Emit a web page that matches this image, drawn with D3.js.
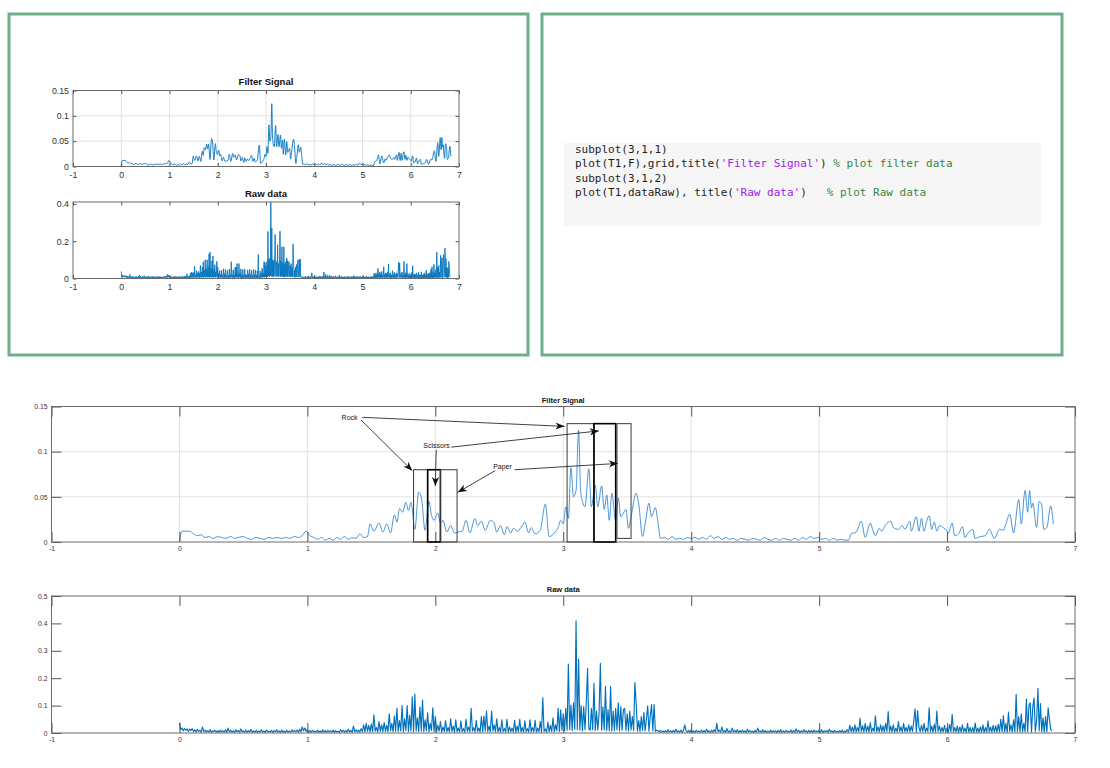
<!DOCTYPE html>
<html><head><meta charset="utf-8">
<script src="https://cdn.jsdelivr.net/npm/d3@7"></script>
<style>body{margin:0;background:#fff} svg{display:block}</style>
</head><body>
<svg id="c" width="1110" height="768"></svg>
<script>
// ---------- data ----------
const xTicks = [-1, 0, 1, 2, 3, 4, 5, 6, 7];
const filterYTicks = [0, 0.05, 0.1, 0.15];
const rawYTicks = [0, 0.1, 0.2, 0.3, 0.4, 0.5];
const smallRawYTicks = [0, 0.2, 0.4];

// Filter signal: [time (s), value x 1000]
const filterSignal = [[0,1],[0.02,12],[0.05,12],[0.08,12],[0.11,9],[0.14,7],[0.17,8],[0.2,5],[0.23,6],[0.26,4],[0.3,6],[0.33,5],[0.36,4],[0.4,6],[0.43,4],[0.46,5],[0.5,6],[0.53,4],[0.56,3],[0.6,5],[0.63,4],[0.66,3],[0.7,5],[0.73,4],[0.76,5],[0.8,4],[0.83,5],[0.86,4],[0.9,6],[0.93,5],[0.96,7],[0.99,12],[1.02,7],[1.05,5],[1.08,3],[1.11,5],[1.14,2],[1.17,4],[1.2,2],[1.23,5],[1.26,3],[1.29,6],[1.32,3],[1.35,5],[1.38,4],[1.41,9],[1.44,5],[1.47,6],[1.49,20],[1.52,12],[1.56,21],[1.59,11],[1.62,20],[1.65,10],[1.68,30],[1.7,22],[1.72,37],[1.745,33],[1.77,44],[1.79,35],[1.81,44],[1.84,14],[1.87,55],[1.89,50],[1.92,13],[1.95,45],[1.97,30],[1.99,24],[2.02,32],[2.04,21],[2.06,24],[2.09,11],[2.12,18],[2.15,10],[2.18,11],[2.21,12],[2.24,24],[2.27,10],[2.31,26],[2.33,18],[2.36,23],[2.39,13],[2.43,24],[2.46,21],[2.48,11],[2.51,18],[2.54,8],[2.56,17],[2.59,10],[2.61,15],[2.64,12],[2.67,16],[2.7,22],[2.73,10],[2.75,16],[2.78,9],[2.82,13],[2.86,42],[2.89,6],[2.93,10],[2.96,16],[2.98,24],[3,20],[3.02,39],[3.04,26],[3.06,82],[3.08,50],[3.1,57],[3.12,124],[3.135,58],[3.15,45],[3.17,39],[3.2,81],[3.22,39],[3.25,63],[3.27,39],[3.3,62],[3.32,36],[3.34,52],[3.36,24],[3.38,54],[3.41,23],[3.43,49],[3.45,28],[3.47,32],[3.49,36],[3.51,15],[3.53,28],[3.57,54],[3.59,42],[3.62,6],[3.64,20],[3.67,43],[3.69,28],[3.72,38],[3.74,22],[3.76,4],[3.79,5],[3.82,3],[3.85,6],[3.88,3],[3.91,4],[3.94,3],[3.97,5],[4,4],[4.03,5],[4.06,3],[4.09,5],[4.12,3],[4.15,7],[4.18,4],[4.21,6],[4.24,3],[4.27,5],[4.3,3],[4.33,4],[4.36,2],[4.39,4],[4.42,3],[4.45,2],[4.48,4],[4.51,3],[4.54,2],[4.57,5],[4.6,3],[4.63,2],[4.66,4],[4.69,2],[4.72,4],[4.75,3],[4.78,2],[4.81,4],[4.84,2],[4.87,5],[4.9,3],[4.93,6],[4.96,4],[4.99,5],[5.02,3],[5.05,4],[5.08,2],[5.11,4],[5.14,2],[5.17,3],[5.2,2],[5.23,2],[5.25,9],[5.29,11],[5.33,23],[5.36,5],[5.4,21],[5.42,13],[5.44,7],[5.47,15],[5.49,12],[5.52,19],[5.56,23],[5.58,16],[5.62,14],[5.65,18],[5.67,14],[5.71,23],[5.72,12],[5.76,28],[5.78,12],[5.8,26],[5.82,12],[5.84,23],[5.86,29],[5.88,14],[5.9,22],[5.92,12],[5.94,18],[5.97,16],[6,12],[6.01,10],[6.04,21],[6.06,7],[6.09,9],[6.12,17],[6.14,5],[6.16,9],[6.2,14],[6.22,4],[6.26,6],[6.3,7],[6.33,14],[6.37,4],[6.41,14],[6.44,13],[6.46,20],[6.49,31],[6.52,10],[6.56,47],[6.58,20],[6.61,57],[6.63,33],[6.645,57],[6.66,38],[6.67,43],[6.7,16],[6.72,45],[6.74,41],[6.755,14],[6.78,16],[6.81,40],[6.83,20]];

// Raw data: one sample every rawStep seconds from rawStart, value x 1000
const rawStart = 0, rawStep = 0.01;
const rawMilli = [
38,12,18,8,16,10,15,6,14,9,
16,5,12,4,13,6,10,3,22,5,
11,3,9,4,12,2,8,5,10,3,
9,2,11,4,8,3,12,2,18,4,
10,3,8,2,12,5,9,3,15,4,
8,2,11,3,9,4,13,2,8,3,
10,2,7,4,12,3,8,2,11,4,
7,3,10,2,9,4,12,3,8,2,
11,3,8,2,10,4,7,3,12,5,
9,4,11,3,14,5,22,8,18,6,
12,3,9,2,10,4,7,2,11,3,
8,2,12,3,9,2,10,4,8,3,
11,2,9,3,7,2,12,4,10,3,
9,3,14,4,10,2,25,5,12,4,
11,3,16,5,30,4,35,6,28,4,
33,5,66,7,20,4,42,6,30,5,
38,6,28,4,70,8,35,5,62,7,
90,6,45,8,100,5,52,9,100,6,
65,7,132,5,142,8,55,6,95,7,
120,6,48,8,74,5,35,9,92,6,
60,5,28,7,42,4,22,6,45,5,
20,4,52,6,25,3,48,5,18,4,
44,5,16,3,50,6,22,4,90,7,
20,4,46,6,18,3,60,5,62,7,
80,6,25,4,80,7,30,5,52,4,
20,3,48,5,16,4,50,3,22,5,
18,4,46,3,25,5,50,4,20,3,
44,5,16,3,48,4,20,5,46,3,
18,4,42,3,129,6,15,3,40,5,
28,6,55,5,30,8,90,6,85,9,
70,8,90,10,252,12,102,9,110,14,
409,12,270,10,100,8,96,12,110,236,
14,10,90,12,181,9,80,11,70,254,
10,95,12,170,9,85,8,170,7,80,
9,90,12,110,8,96,10,85,90,9,
70,8,80,11,60,9,184,108,7,45,
6,60,9,75,8,50,99,7,60,104,
8,104,6,10,8,4,10,3,7,4,
9,3,12,4,8,2,10,3,14,4,
8,3,11,2,9,30,7,3,10,2,
12,3,8,2,10,4,7,3,11,2,
9,3,14,4,8,2,10,3,12,4,
35,5,10,3,22,4,9,2,16,3,
8,2,18,4,10,3,12,2,9,3,
11,3,8,2,14,4,9,3,7,2,
10,3,18,4,8,2,12,3,9,2,
7,3,11,2,9,4,8,2,10,3,
12,3,8,2,10,4,7,3,11,2,
9,3,15,4,10,2,8,3,12,4,
8,2,10,3,9,2,11,4,8,3,
10,3,12,2,8,4,9,3,14,4,
8,2,10,3,7,2,9,3,11,2,
8,3,12,4,28,5,22,3,30,4,
20,5,54,6,26,4,35,5,25,4,
38,4,18,6,63,5,22,4,30,5,
26,4,35,6,78,5,25,4,30,3,
18,4,42,6,22,3,35,5,20,4,
30,5,25,6,45,88,4,82,20,5,
28,6,35,4,18,5,92,6,25,3,
32,4,80,6,25,3,20,4,28,3,
18,3,32,4,68,5,20,3,25,2,
22,3,30,4,18,2,35,3,20,2,
20,2,36,3,18,2,22,3,30,2,
20,3,44,4,22,3,28,4,26,3,
32,4,50,5,63,4,35,3,76,6,
30,4,48,5,141,6,60,4,70,5,
35,5,124,6,100,110,4,95,128,6,
45,163,8,107,5,55,4,60,5,92,
50,13,8];

// Annotations on the large filter plot (data units)
const rects = [
  {t0:1.83, t1:1.94, v0:0, v1:0.08, bold:false},
  {t0:1.94, t1:2.04, v0:0, v1:0.08, bold:true},
  {t0:2.04, t1:2.17, v0:0, v1:0.08, bold:false},
  {t0:3.03, t1:3.24, v0:0, v1:0.131, bold:false},
  {t0:3.24, t1:3.41, v0:0, v1:0.131, bold:true},
  {t0:3.42, t1:3.53, v0:0.004, v1:0.131, bold:false}
];
const noteLabels = [
  {text:"Rock", t:1.33, v:0.138},
  {text:"Scissors", t:2.01, v:0.107},
  {text:"Paper", t:2.525, v:0.083}
];
const noteArrows = [
  {t0:1.42, v0:0.135, t1:1.82, v1:0.079},
  {t0:1.43, v0:0.138, t1:3.01, v1:0.128},
  {t0:2.007, v0:0.102, t1:2.0, v1:0.062},
  {t0:2.124, v0:0.105, t1:3.278, v1:0.123},
  {t0:2.468, v0:0.079, t1:2.176, v1:0.055},
  {t0:2.62, v0:0.08, t1:3.427, v1:0.087}
];

const codeLines = [
  [["subplot(3,1,1)","k"]],
  [["plot(T1,F),grid,title(","k"],["'Filter Signal'","s"],[") ","k"],["% plot filter data","c"]],
  [["subplot(3,1,2)","k"]],
  [["plot(T1,dataRaw), title(","k"],["'Raw data'","s"],[")   ","k"],["% plot Raw data","c"]]
];

// ---------- build ----------
const filterData = filterSignal.map(d => ({t: d[0], v: d[1] / 1000}));
const rawData = rawMilli.map((m, i) => ({t: rawStart + i * rawStep, v: m / 1000}));

const svg = d3.select("#c");
const FONT = "'Liberation Sans', Arial, Helvetica, sans-serif";
const green = "#6daf89";

svg.append("rect").attr("x",9).attr("y",14).attr("width",519).attr("height",341)
  .attr("fill","none").attr("stroke",green).attr("stroke-width",3);
svg.append("rect").attr("x",542).attr("y",14).attr("width",520).attr("height",341)
  .attr("fill","none").attr("stroke",green).attr("stroke-width",3);

let clipId = 0;
function panel(o) {
  const x = d3.scaleLinear().domain([-1, 7]).range([o.left, o.right]);
  const y = d3.scaleLinear().domain(o.yDomain).range([o.bottom, o.top]);
  const g = svg.append("g");
  const id = "clip" + (clipId++);
  svg.append("clipPath").attr("id", id).append("rect")
    .attr("x", o.left).attr("y", o.top).attr("width", o.right - o.left).attr("height", o.bottom - o.top);

  if (o.grid) {
    g.append("g").selectAll("line").data(xTicks.slice(1, -1)).join("line")
      .attr("x1", d => x(d)).attr("x2", d => x(d)).attr("y1", o.top).attr("y2", o.bottom)
      .attr("stroke", "#e2e2e2").attr("stroke-width", 1);
    g.append("g").selectAll("line").data(o.yTicks.slice(1, -1)).join("line")
      .attr("x1", o.left).attr("x2", o.right).attr("y1", d => y(d)).attr("y2", d => y(d))
      .attr("stroke", "#e2e2e2").attr("stroke-width", 1);
  }

  const line = d3.line().x(d => x(d.t)).y(d => y(d.v)).curve(o.curve || d3.curveLinear);
  g.append("path").datum(o.data).attr("d", line).attr("fill", "none")
    .attr("stroke", o.color).attr("stroke-width", o.lineW)
    .attr("stroke-linejoin", "round").attr("clip-path", `url(#${id})`);

  const style = sel => {
    sel.select(".domain").remove();
    sel.selectAll("line").attr("stroke", "#555").attr("stroke-width", 1);
    sel.selectAll("text").attr("fill", "#333").attr("font-family", FONT).attr("font-size", o.fs);
  };
  const fmt = d => String(d);
  g.append("g").attr("transform", `translate(0,${o.bottom})`)
    .call(d3.axisBottom(x).tickValues(xTicks).tickSize(-o.tl).tickPadding(o.padX).tickFormat(fmt)).call(style);
  g.append("g").attr("transform", `translate(0,${o.top})`)
    .call(d3.axisTop(x).tickValues(xTicks).tickSize(-o.tl).tickFormat("")).call(style);
  g.append("g").attr("transform", `translate(${o.left},0)`)
    .call(d3.axisLeft(y).tickValues(o.yTicks).tickSize(-o.tl).tickPadding(o.padY).tickFormat(fmt)).call(style);
  g.append("g").attr("transform", `translate(${o.right},0)`)
    .call(d3.axisRight(y).tickValues(o.yTicks).tickSize(-o.tl).tickFormat("")).call(style);

  g.append("rect").attr("x", o.left).attr("y", o.top)
    .attr("width", o.right - o.left).attr("height", o.bottom - o.top)
    .attr("fill", "none").attr("stroke", "#6a6a6a").attr("stroke-width", 1);

  g.append("text").attr("x", (o.left + o.right) / 2).attr("y", o.titleY)
    .attr("text-anchor", "middle").attr("font-family", FONT).attr("font-weight", "bold")
    .attr("font-size", o.titleFs).attr("fill", "#111").text(o.title);
  return {x, y, g};
}

// small panels (screenshot, top-left)
panel({left:73, right:459, top:90.5, bottom:166.5, yDomain:[0,0.15], yTicks:filterYTicks, grid:true,
  data:filterData, curve:d3.curveMonotoneX, color:"#0072BD", lineW:0.9, tl:3.5, fs:8.8, padX:5.5, padY:4,
  title:"Filter Signal", titleFs:9.6, titleY:84.5});
panel({left:73, right:459, top:202, bottom:278.5, yDomain:[0,0.41], yTicks:smallRawYTicks, grid:false,
  data:rawData, color:"#0072BD", lineW:0.85, tl:3.5, fs:8.8, padX:5.5, padY:4,
  title:"Raw data", titleFs:9.6, titleY:196.5});

// large panels
const big = panel({left:51.5, right:1075, top:406.5, bottom:542, yDomain:[0,0.15], yTicks:filterYTicks, grid:true,
  data:filterData, curve:d3.curveMonotoneX, color:"#2a82cf", lineW:0.85, tl:10, fs:6.8, padX:4.5, padY:4,
  title:"Filter Signal", titleFs:7.5, titleY:402.6});
panel({left:51.5, right:1075, top:596, bottom:733, yDomain:[0,0.5], yTicks:rawYTicks, grid:false,
  data:rawData, color:"#0072BD", lineW:1.15, tl:10, fs:6.8, padX:4.5, padY:4,
  title:"Raw data", titleFs:7.5, titleY:591.6});

// annotations
const bx = big.x, by = big.y;
svg.append("defs").append("marker").attr("id", "ah")
  .attr("viewBox", "-10 -5 12 10").attr("refX", 0).attr("refY", 0)
  .attr("markerUnits", "userSpaceOnUse").attr("markerWidth", 12).attr("markerHeight", 10)
  .attr("orient", "auto")
  .append("path").attr("d", "M0,0 L-9,-3.6 L-6.5,0 L-9,3.6 Z").attr("fill", "#111");

const ann = svg.append("g");
ann.selectAll("rect").data(rects).join("rect")
  .attr("x", d => bx(d.t0)).attr("y", d => by(d.v1))
  .attr("width", d => bx(d.t1) - bx(d.t0)).attr("height", d => by(d.v0) - by(d.v1))
  .attr("fill", "none").attr("stroke", d => d.bold ? "#000" : "#3a3a3a")
  .attr("stroke-width", d => d.bold ? 1.6 : 1);
ann.selectAll("line").data(noteArrows).join("line")
  .attr("x1", d => bx(d.t0)).attr("y1", d => by(d.v0))
  .attr("x2", d => bx(d.t1)).attr("y2", d => by(d.v1))
  .attr("stroke", "#111").attr("stroke-width", 0.8).attr("marker-end", "url(#ah)");
ann.selectAll("text").data(noteLabels).join("text")
  .attr("x", d => bx(d.t)).attr("y", d => by(d.v)).attr("dy", "0.35em")
  .attr("text-anchor", "middle").attr("font-family", FONT).attr("font-size", 7)
  .attr("fill", "#111").text(d => d.text);

// code block
svg.append("rect").attr("x", 564).attr("y", 143).attr("width", 477).attr("height", 83).attr("fill", "#f6f6f6");
const codeColors = {k:"#1e1e1e", s:"#a020f0", c:"#3a883a"};
const code = svg.append("g");
codeLines.forEach((parts, i) => {
  const t = code.append("text").attr("x", 575).attr("y", 153 + i * 14.3)
    .attr("font-family", "'DejaVu Sans Mono', monospace").attr("font-size", 11)
    .attr("xml:space", "preserve").style("white-space", "pre");
  parts.forEach(p => t.append("tspan").attr("fill", codeColors[p[1]]).text(p[0]));
});
</script>
</body></html>
